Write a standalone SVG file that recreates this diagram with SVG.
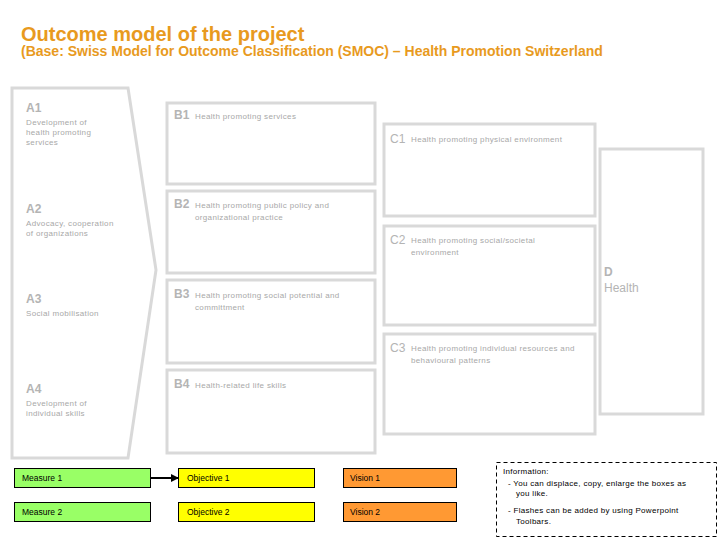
<svg xmlns="http://www.w3.org/2000/svg" width="720" height="540" viewBox="0 0 720 540">
<style>
.t{font-family:"Liberation Sans",Arial,sans-serif}
.box{fill:#fff;stroke:#D9D9D9;stroke-width:3}
.lab{font-family:"Liberation Sans",Arial,sans-serif;font-size:12px;font-weight:bold;fill:#B4B4B4}
.labn{font-family:"Liberation Sans",Arial,sans-serif;font-size:12px;fill:#B4B4B4}
.desc{font-family:"Liberation Sans",Arial,sans-serif;font-size:8px;letter-spacing:0.35px;fill:#A8A8A8}
.leg{stroke:#000;stroke-width:1}
.lt{font-family:"Liberation Sans",Arial,sans-serif;font-size:8.5px;fill:#000}
.it{font-family:"Liberation Sans",Arial,sans-serif;font-size:8px;letter-spacing:0.3px;fill:#000}
</style>
<defs>
<marker id="ah" markerWidth="8" markerHeight="8" refX="7" refY="4" orient="auto" markerUnits="userSpaceOnUse">
<path d="M0,0 L8,4 L0,8 z" fill="#000"/>
</marker>
</defs>
<rect width="720" height="540" fill="#fff"/>
<text x="21" y="41" class="t" font-size="20" font-weight="bold" fill="#E89A1E">Outcome model of the project</text>
<text x="21" y="56" class="t" font-size="14" font-weight="bold" fill="#E89A1E">(Base: Swiss Model for Outcome Classification (SMOC) – Health Promotion Switzerland</text>

<g id="A">
<polygon class="box" points="12,88 128,88 156,270 128,458 12,458"/>
<text x="26" y="112" class="lab">A1</text>
<text x="26" y="125" class="desc">Development of</text>
<text x="26" y="135" class="desc">health promoting</text>
<text x="26" y="145" class="desc">services</text>
<text x="26" y="213" class="lab">A2</text>
<text x="26" y="226" class="desc">Advocacy, cooperation</text>
<text x="26" y="236" class="desc">of organizations</text>
<text x="26" y="303" class="lab">A3</text>
<text x="26" y="316" class="desc">Social mobilisation</text>
<text x="26" y="393" class="lab">A4</text>
<text x="26" y="406" class="desc">Development of</text>
<text x="26" y="416" class="desc">individual skills</text>
</g>

<g id="B1"><rect class="box" x="167" y="103" width="208" height="81"/>
<text x="174" y="119" class="lab">B1</text><text x="195" y="119" class="desc">Health promoting services</text></g>
<g id="B2"><rect class="box" x="167" y="191" width="208" height="82"/>
<text x="174" y="208" class="lab">B2</text><text x="195" y="208" class="desc">Health promoting public policy and</text><text x="195" y="220" class="desc">organizational practice</text></g>
<g id="B3"><rect class="box" x="167" y="280" width="208" height="83"/>
<text x="174" y="298" class="lab">B3</text><text x="195" y="298" class="desc">Health promoting social potential and</text><text x="195" y="310" class="desc">committment</text></g>
<g id="B4"><rect class="box" x="167" y="370" width="208" height="83"/>
<text x="174" y="388" class="lab">B4</text><text x="195" y="388" class="desc">Health-related life skills</text></g>

<g id="C1"><rect class="box" x="384" y="124" width="211" height="92"/>
<text x="390" y="143" class="labn">C1</text><text x="411" y="142" class="desc">Health promoting physical environment</text></g>
<g id="C2"><rect class="box" x="384" y="226" width="211" height="99"/>
<text x="390" y="244" class="labn">C2</text><text x="411" y="243" class="desc">Health promoting social/societal</text><text x="411" y="255" class="desc">environment</text></g>
<g id="C3"><rect class="box" x="384" y="334" width="211" height="100"/>
<text x="390" y="352" class="labn">C3</text><text x="411" y="351" class="desc">Health promoting individual resources and</text><text x="411" y="363" class="desc">behavioural patterns</text></g>

<g id="D"><rect class="box" x="600" y="149" width="103" height="265"/>
<text x="604" y="276" class="lab">D</text><text x="604" y="292" class="t" font-size="12" fill="#B4B4B4">Health</text></g>

<g id="legend">
<g id="m1"><rect class="leg" x="14.5" y="468.5" width="136" height="19" fill="#99FF66"/><text x="22" y="481" class="lt">Measure 1</text></g>
<g id="m2"><rect class="leg" x="14.5" y="502.5" width="136" height="19" fill="#99FF66"/><text x="22" y="515" class="lt">Measure 2</text></g>
<g id="o1"><rect class="leg" x="178.5" y="468.5" width="136" height="19" fill="#FFFF00"/><text x="187" y="481" class="lt">Objective 1</text></g>
<g id="o2"><rect class="leg" x="178.5" y="502.5" width="136" height="19" fill="#FFFF00"/><text x="187" y="515" class="lt">Objective 2</text></g>
<g id="v1"><rect class="leg" x="343.5" y="468.5" width="113" height="19" fill="#FF9933"/><text x="350" y="481" class="lt">Vision 1</text></g>
<g id="v2"><rect class="leg" x="343.5" y="502.5" width="113" height="19" fill="#FF9933"/><text x="350" y="515" class="lt">Vision 2</text></g>
</g>

<g id="connectors">
<line x1="151" y1="478" x2="178" y2="478" stroke="#000" stroke-width="2" marker-end="url(#ah)"/>
</g>

<g id="info">
<rect x="496.5" y="462.5" width="220" height="74" fill="#fff" stroke="#000" stroke-width="1" stroke-dasharray="4,3"/>
<text x="503" y="474" class="it">Information:</text>
<text x="508" y="486" class="it">-  You can displace, copy, enlarge the boxes as</text>
<text x="516" y="496" class="it">you like.</text>
<text x="508" y="513" class="it">-  Flashes can be added by using Powerpoint</text>
<text x="516" y="524" class="it">Toolbars.</text>
</g>
</svg>
